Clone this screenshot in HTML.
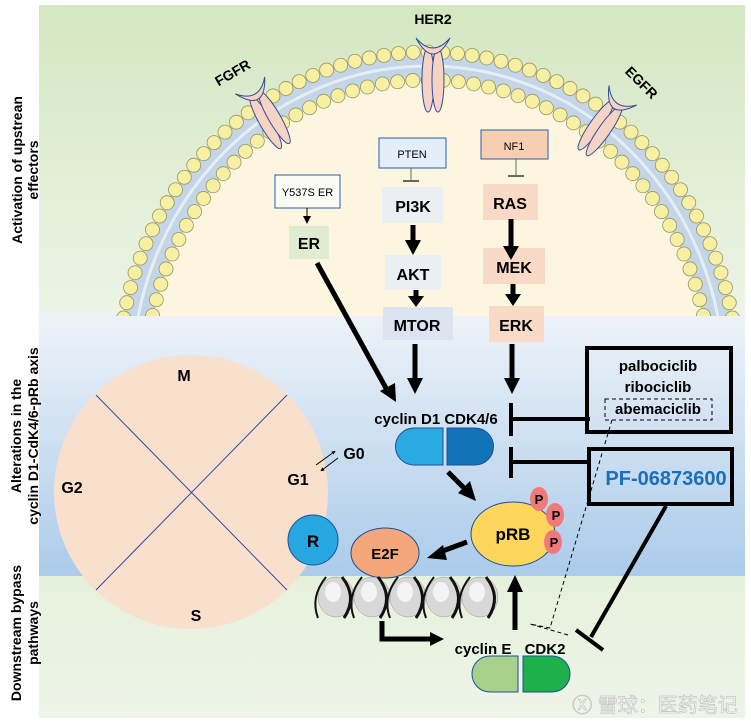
<!DOCTYPE html>
<html><head><meta charset="utf-8"><style>
html,body{margin:0;padding:0;background:#fff;}
svg{display:block;font-family:"Liberation Sans",Arial,sans-serif;}
.b{font-weight:bold;}
</style></head><body>
<svg id="s" width="751" height="728" viewBox="0 0 751 728" xmlns="http://www.w3.org/2000/svg">
<defs>
<linearGradient id="gTop" x1="0" y1="0" x2="0" y2="1"><stop offset="0" stop-color="#d4e7c2"/><stop offset="1" stop-color="#edf4e6"/></linearGradient>
<linearGradient id="gMid" x1="0" y1="0" x2="0" y2="1"><stop offset="0" stop-color="#eef3f8"/><stop offset="1" stop-color="#abcbea"/></linearGradient>
<linearGradient id="gBot" x1="0" y1="0" x2="0" y2="1"><stop offset="0" stop-color="#e6f1dc"/><stop offset="1" stop-color="#eef5e8"/></linearGradient>
<clipPath id="cTop"><rect x="0" y="0" width="751" height="316"/></clipPath>
<marker id="ah" markerWidth="4" markerHeight="4" refX="2" refY="2" orient="auto" markerUnits="strokeWidth"><path d="M0,0 L4,2 L0,4 z" fill="#000"/></marker>
<marker id="ahs" markerWidth="8" markerHeight="8" refX="6" refY="4" orient="auto" markerUnits="userSpaceOnUse"><path d="M0,0 L8,4 L0,8 z" fill="#000"/></marker>
</defs>
<rect x="39" y="5" width="706" height="311" fill="url(#gTop)"/>
<rect x="39" y="313" width="706" height="263" fill="url(#gMid)"/>
<rect x="39" y="576" width="706" height="142" fill="url(#gBot)"/>
<g clip-path="url(#cTop)">
<ellipse cx="428" cy="380" rx="282" ry="300" fill="#fcf5df"/>
<ellipse cx="428" cy="380" rx="296" ry="314" fill="none" stroke="#c3d5e6" stroke-width="30"/>
<ellipse cx="428" cy="380" rx="296" ry="314" fill="none" stroke="#e6eef5" stroke-width="3"/>
<g id="beads"></g>
</g>
<!-- receptors -->
<g stroke="#2f4f9a" stroke-width="1" fill="#f6d3c4">
<g transform="translate(433,80)">
<ellipse cx="-5" cy="0" rx="6" ry="32"/><ellipse cx="5" cy="0" rx="6" ry="32"/>
<path d="M-17,-42 Q0,-10 17,-42 Q0,-22 -17,-42z"/>
</g>
<g transform="translate(270,120) rotate(-30)">
<ellipse cx="-5" cy="0" rx="6" ry="30"/><ellipse cx="5" cy="0" rx="6" ry="30"/>
<path d="M-17,-40 Q0,-8 17,-40 Q0,-20 -17,-40z"/>
</g>
<g transform="translate(600,128) rotate(35)">
<ellipse cx="-5" cy="0" rx="6" ry="30"/><ellipse cx="5" cy="0" rx="6" ry="30"/>
<path d="M-17,-40 Q0,-8 17,-40 Q0,-20 -17,-40z"/>
</g>
</g>
<text x="433" y="24" class="b" font-size="14" text-anchor="middle">HER2</text>
<text x="235" y="77" class="b" font-size="14" text-anchor="middle" transform="rotate(-30 235 77)">FGFR</text>
<text x="638" y="86" class="b" font-size="14" text-anchor="middle" transform="rotate(45 638 86)">EGFR</text>
<!-- left labels -->
<g class="b" font-size="14" text-anchor="middle">
<text transform="translate(22,170) rotate(-90)">Activation of upstrean</text>
<text transform="translate(38,170) rotate(-90)">effectors</text>
<text transform="translate(21,436) rotate(-90)">Alterations in the</text>
<text transform="translate(38,436) rotate(-90)">cyclin D1-CdK4/6-pRb axis</text>
<text transform="translate(21,633) rotate(-90)">Downstream bypass</text>
<text transform="translate(38,633) rotate(-90)">pathways</text>
</g>
<!-- pathway nodes -->
<rect x="275" y="175" width="65" height="33" fill="#fbfcf5" stroke="#2a5db0"/>
<text x="307.5" y="196" font-size="11" text-anchor="middle">Y537S ER</text>
<rect x="289" y="226" width="40" height="33" fill="#dfecd0"/>
<text x="309" y="249" class="b" font-size="16" text-anchor="middle">ER</text>
<line x1="307" y1="208" x2="307" y2="222" stroke="#000" stroke-width="1" marker-end="url(#ahs)"/>
<rect x="379" y="138" width="67" height="30" fill="#e3eef9" stroke="#2a5db0"/>
<text x="412" y="158" font-size="11" text-anchor="middle">PTEN</text>
<line x1="411" y1="168" x2="411" y2="181" stroke="#666"/><line x1="403" y1="181" x2="419" y2="181" stroke="#666" stroke-width="2"/>
<rect x="382" y="187" width="61" height="36" fill="#ebeef2"/>
<text x="413" y="212" class="b" font-size="16" text-anchor="middle">PI3K</text>
<rect x="385" y="255" width="56" height="35" fill="#ebeef2"/>
<text x="413" y="280" class="b" font-size="16" text-anchor="middle">AKT</text>
<rect x="383" y="307" width="70" height="33" fill="#dbe4f0"/>
<text x="417" y="331" class="b" font-size="16" text-anchor="middle">MTOR</text>
<rect x="481" y="130" width="67" height="29" fill="#f8ceb2" stroke="#2a5db0"/>
<text x="514" y="150" font-size="11" text-anchor="middle">NF1</text>
<line x1="516" y1="159" x2="516" y2="176" stroke="#666"/><line x1="508" y1="176" x2="524" y2="176" stroke="#666" stroke-width="2"/>
<rect x="483" y="184" width="55" height="36" fill="#f9dac6"/>
<text x="510" y="209" class="b" font-size="16" text-anchor="middle">RAS</text>
<rect x="483" y="248" width="62" height="36" fill="#f9dac6"/>
<text x="514" y="273" class="b" font-size="16" text-anchor="middle">MEK</text>
<rect x="489" y="306" width="55" height="36" fill="#f9dac6"/>
<text x="516" y="331" class="b" font-size="16" text-anchor="middle">ERK</text>
<!-- thick arrows -->
<g stroke="#000" stroke-width="5" fill="none">
<line x1="413" y1="225" x2="413" y2="240"/><line x1="416" y1="290" x2="416" y2="296"/>
<line x1="511" y1="219" x2="511" y2="246"/><line x1="513" y1="284" x2="513" y2="294"/>
<line x1="415" y1="344" x2="415" y2="378"/><line x1="512" y1="344" x2="512" y2="378"/>
<line x1="317" y1="263" x2="387" y2="390"/>
<line x1="448" y1="472" x2="464" y2="488"/>
<line x1="467" y1="542" x2="440" y2="552"/>
<line x1="515" y1="630" x2="515" y2="592"/>
<path d="M382,621 L382,639 L430,639"/>
</g>
<g fill="#000">
<path d="M405,240 L421,240 L413,255z"/><path d="M408,296 L424,296 L416,307z"/>
<path d="M503,246 L519,246 L511,260z"/><path d="M505,294 L521,294 L513,306z"/>
<path d="M407,378 L423,378 L415,394z"/><path d="M504,378 L520,378 L512,394z"/>
<path d="M380,391 L395,383 L396,402z"/>
<path d="M458,493 L470,481 L476,501z"/>
<path d="M443,545 L447,560 L427,558z"/>
<path d="M507,592 L523,592 L515,575z"/>
<path d="M430,632 L444,639 L430,646z"/>
</g>
<!-- cyclin D1 -->
<text x="436" y="424" class="b" font-size="15" text-anchor="middle">cyclin D1 CDK4/6</text>
<path d="M443,428 L414,428 A18.5,18.5 0 0 0 414,465 L443,465z" fill="#29abe2" stroke="#1d4f9a"/>
<path d="M447,428 L475,428 A18.5,18.5 0 0 1 475,465 L447,465z" fill="#1273b8" stroke="#1d4f9a"/>
<!-- T bars -->
<g stroke="#000" stroke-width="4">
<line x1="511" y1="403" x2="511" y2="436"/><line x1="511" y1="419" x2="590" y2="419"/>
<line x1="511" y1="447" x2="511" y2="478"/><line x1="511" y1="462" x2="590" y2="462"/>
<line x1="666" y1="506" x2="591" y2="637"/><line x1="576" y1="630" x2="603" y2="650"/>
</g>
<rect x="587" y="348" width="144" height="84" fill="none" stroke="#000" stroke-width="4"/>
<g class="b" font-size="15" text-anchor="middle">
<text x="658" y="371">palbociclib</text><text x="658" y="392">ribociclib</text><text x="658" y="414">abemaciclib</text>
</g>
<rect x="605" y="399" width="107" height="21" fill="none" stroke="#000" stroke-dasharray="4,3"/>
<polyline points="612,420 550,628 530,624 568,635" fill="none" stroke="#000" stroke-dasharray="4,3"/>
<rect x="589" y="449" width="143" height="55" fill="none" stroke="#000" stroke-width="4"/>
<text x="666" y="485" class="b" font-size="20" fill="#1a6fb9" text-anchor="middle">PF-06873600</text>
<!-- cell cycle -->
<circle cx="191" cy="492" r="137" fill="#f9e0cc"/>
<g stroke="#2a4fa0" stroke-width="1"><line x1="96" y1="395" x2="287" y2="590"/><line x1="287" y1="395" x2="96" y2="590"/></g>
<g class="b" font-size="16" text-anchor="middle">
<text x="184" y="381">M</text><text x="72" y="493">G2</text><text x="196" y="621">S</text><text x="298" y="485">G1</text><text x="354" y="459">G0</text>
</g>
<g stroke="#000" stroke-width="1"><line x1="316" y1="465" x2="334" y2="452" marker-end="url(#ah)"/><line x1="338" y1="458" x2="322" y2="470" marker-end="url(#ah)"/></g>
<circle cx="313" cy="540" r="25" fill="#27a7e1" stroke="#1d4f9a"/>
<text x="313" y="547" class="b" font-size="17" text-anchor="middle">R</text>
<ellipse cx="385" cy="553" rx="34" ry="25" fill="#f4a77a" stroke="#1d4f9a"/>
<text x="385" y="559" class="b" font-size="15" text-anchor="middle">E2F</text>
<ellipse cx="513" cy="534" rx="42" ry="32" fill="#fdd65b" stroke="#1d4f9a"/>
<text x="513" y="540" class="b" font-size="17" text-anchor="middle">pRB</text>
<g fill="#f07a7a"><ellipse cx="539" cy="499" rx="9" ry="12"/><ellipse cx="555" cy="515" rx="9" ry="12"/><ellipse cx="553" cy="542" rx="9" ry="12"/></g>
<g class="b" font-size="13" text-anchor="middle"><text x="539" y="504">P</text><text x="556" y="520">P</text><text x="554" y="547">P</text></g>
<!-- DNA -->
<g id="dna"></g>
<!-- cyclin E -->
<text x="483" y="654" class="b" font-size="15" text-anchor="middle">cyclin E</text>
<text x="545" y="654" class="b" font-size="15" text-anchor="middle">CDK2</text>
<path d="M518,656 L490,656 A18,18 0 0 0 490,692 L518,692z" fill="#a8d08d" stroke="#1d4f9a"/>
<path d="M523,656 L552,656 A18,18 0 0 1 552,692 L523,692z" fill="#1db04b" stroke="#1d4f9a"/>
<text x="655" y="712" font-size="20" fill="#ffffff" stroke="#c8c8c8" stroke-width="0.8" text-anchor="middle" font-family="'Liberation Sans','Noto Sans CJK SC',sans-serif">Ⓧ 雪球：医药笔记</text>
</svg>
<script>
(function(){
var ns="http://www.w3.org/2000/svg",g=document.getElementById("beads");
function el(t,a,p){var e=document.createElementNS(ns,t);for(var k in a)e.setAttribute(k,a[k]);p.appendChild(e);return e;}
var cx=428,cy=380;
[[310,328],[282,300]].forEach(function(r,i){
 var n=i?58:66;
 for(var j=0;j<=n;j++){var t=Math.PI+Math.PI*j/n;var x=cx+r[0]*Math.cos(t),y=cy+r[1]*Math.sin(t);
  if(y>322)continue;
  el("circle",{cx:x,cy:y,r:7,fill:"#f7efa2",stroke:"#9a9560","stroke-width":0.8},g);}
});
var d=document.getElementById("dna");
for(var k=0;k<5;k++){var x=336+k*36;
 el("ellipse",{cx:x,cy:597,rx:18,ry:20,fill:"#d8d8d8",stroke:"#999","stroke-width":0.5},d);
 el("ellipse",{cx:x-3,cy:592,rx:8,ry:10,fill:"#f4f4f4"},d);
 el("path",{d:"M"+(x+6)+",577 Q"+(x+22)+",597 "+(x+8)+",618",fill:"none",stroke:"#111","stroke-width":3},d);
 el("path",{d:"M"+(x-18)+",618 Q"+(x-26)+",597 "+(x-10)+",577",fill:"none",stroke:"#111","stroke-width":2},d);}
})();
</script>
</body></html>
